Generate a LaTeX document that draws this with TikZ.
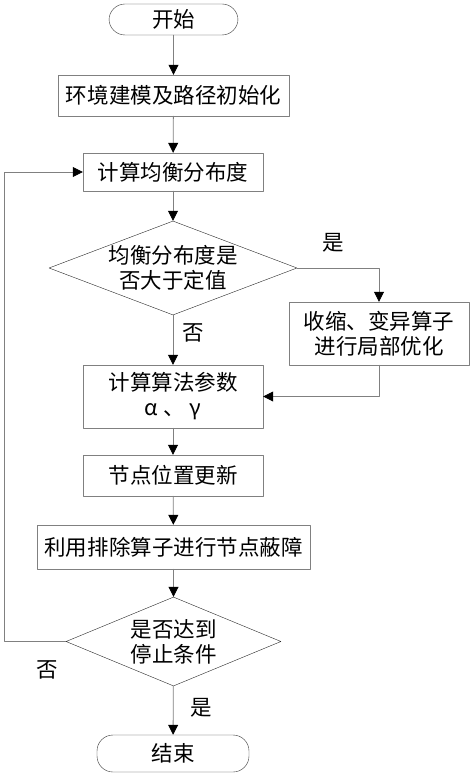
\documentclass[tikz,border=0pt]{standalone}
\usepackage{fontspec}
\newfontfamily\cjk{Noto Sans CJK SC}
\usetikzlibrary{shapes.geometric,arrows.meta}
\begin{document}
\begin{tikzpicture}[x=1bp,y=-1bp,line cap=round,line join=round,
	every node/.style={font=\cjk\fontsize{21.5bp}{25bp}\selectfont,align=center,inner sep=0pt},
	box/.style={draw=gray,minimum width=180bp},
	term/.style={draw=black!80,rounded corners=16bp},
	dia/.style={draw=black!85,diamond},
	link/.style={draw=gray,line width=0.8bp,-{Triangle[length=10bp,width=10bp,color=black]}}]
	\useasboundingbox (0,0) rectangle (474,777);
	\node[term,minimum width=129bp,minimum height=31bp] (start) at (173.5,19.5) {开始};
	\node[box,minimum width=231bp,minimum height=41bp] (init) at (173.5,95.5) {环境建模及路径初始化};
	\node[box,minimum height=38bp] (calc) at (173,172) {计算均衡分布度};
	\node[dia,minimum width=248bp,minimum height=94bp] (d1) at (173,268) {};
	\node at (d1) {均衡分布度是\\否大于定值};
	\node[box,minimum height=63bp] (opt) at (379,333.5) {收缩、变异算子\\进行局部优化};
	\node[box,minimum height=63bp] (param) at (173,396.5) {计算算法参数\\α 、 γ};
	\node[box,minimum height=41bp] (update) at (173,475.5) {节点位置更新};
	\node[box,minimum width=273bp,minimum height=44bp] (avoid) at (173.5,547) {利用排除算子进行节点蔽障};
	\node[dia,minimum width=215bp,minimum height=89bp] (d2) at (173.5,641.5) {};
	\node at (d2) {是否达到\\停止条件};
	\node[term,minimum width=152bp,minimum height=37bp] (stop) at (173,753.5) {结束};
	% labels
	\node (yes1) at (333,243) {是};
	\node (no1) at (193,333) {否};
	\node (no2) at (47,670) {否};
	\node (yes2) at (201,708) {是};
	\coordinate (back) at (4,641.5);
	% connectors
	\draw[link] (start) -- (init);
	\draw[link] (init) -- (calc);
	\draw[link] (calc) -- (d1);
	\draw[link] (d1.east) -| (opt.north);
	\draw[link] (d1) -- (param);
	\draw[link] (opt.south) |- (param.east);
	\draw[link] (param) -- (update);
	\draw[link] (update) -- (avoid);
	\draw[link] (avoid) -- (d2);
	\draw[link] (d2.west) -- (back) |- (calc.west);
	\draw[link] (d2) -- (stop);
\end{tikzpicture}
\end{document}
